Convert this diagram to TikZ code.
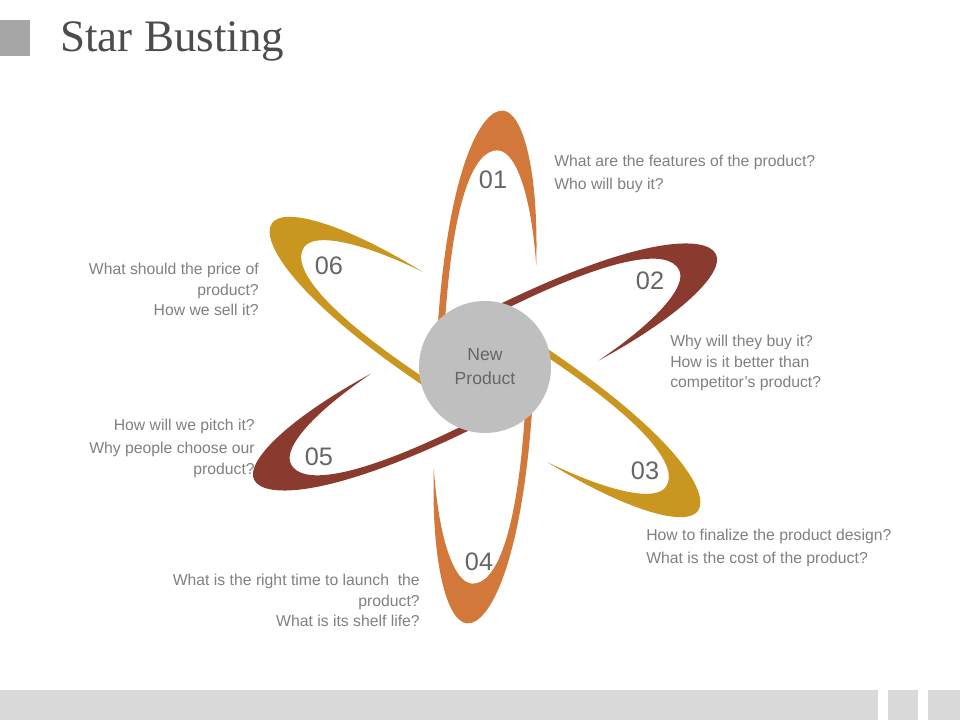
\documentclass[tikz,border=0pt]{standalone}
\usepackage{fontspec}
\setmainfont{Liberation Sans}
\newfontfamily\titlefont{Liberation Serif}
\usetikzlibrary{positioning}
\definecolor{petalorange}{HTML}{D2783A}
\definecolor{petalred}{HTML}{8B3A2F}
\definecolor{petalgold}{HTML}{C9961F}
\definecolor{hubgray}{HTML}{BFBFBF}
\definecolor{txtgray}{HTML}{7F7F7F}
\definecolor{bargray}{HTML}{D9D9D9}
\tikzset{petal/.style={fill=#1, draw=none}}
\tikzset{numlabel/.style={font=\fontsize{18}{20}\selectfont, text=txtgray!80!black, inner sep=0pt}}
\tikzset{question/.style={font=\fontsize{11.2}{14.5}\selectfont, text=txtgray, inner sep=0pt}}
\newcommand{\petalpath}{(-50,40) .. controls (-50,195) and (-22,257) .. (0,257)
  .. controls (20,257) and (40,200) .. (44,105)
  .. controls (34,175) and (16,217) .. (-2,217)
  .. controls (-26,217) and (-44,165) .. (-43,40) -- cycle}

\begin{document}
\begin{tikzpicture}[x=0.025cm, y=0.025cm]
  \useasboundingbox (0,0) rectangle (960,720);

  % frame
  \fill[black!35] (0,664) rectangle (30,700);
  \node[font=\titlefont\fontsize{32}{34}\selectfont, text=black!70, anchor=base west, inner sep=0pt]
    (title) at (60,668) {Star Busting};
  \fill[bargray] (0,0) rectangle (878,30);
  \fill[bargray] (888,0) rectangle (918,30);
  \fill[bargray] (928,0) rectangle (960,30);

  % petals
  \foreach \k/\col in {0/petalorange, 1/petalred, 2/petalgold, 3/petalorange, 4/petalred, 5/petalgold}{
    \begin{scope}[shift={(485,353)}, rotate={-4-60*\k}]
      \fill[petal=\col] \petalpath;
    \end{scope}
  }

  % hub
  \node[circle, fill=hubgray, minimum size=3.3cm, align=center, text=black!60,
    font=\fontsize{12.5}{17}\selectfont] (hub) at (485,353) {New\\Product};

  % numbers
  \node[numlabel] (n01) at (493,540) {01};
  \node[numlabel] (n02) at (650,439) {02};
  \node[numlabel] (n03) at (645,249) {03};
  \node[numlabel] (n04) at (479,158) {04};
  \node[numlabel] (n05) at (319,263) {05};
  \node[numlabel] (n06) at (329,454) {06};

  % questions
  \node[question, anchor=north west, align=left] (q01) at (554,565)
    {What are the features of the product?\\[2pt]Who will buy it?};
  \node[question, anchor=north west, align=left] (q02) at (670,385)
    {Why will they buy it?\\How is it better than\\competitor's product?};
  \node[question, anchor=north west, align=left] (q03) at (646,191)
    {How to finalize the product design?\\[2pt]What is the cost of the product?};
  \node[question, anchor=north east, align=right] (q04) at (420,146)
    {What is the right time to launch\ \ the\\product?\\What is its shelf life?};
  \node[question, anchor=north east, align=right] (q05) at (255,301)
    {How will we pitch it?\\[2pt]Why people choose our\\product?};
  \node[question, anchor=north east, align=right] (q06) at (259,457)
    {What should the price of\\product?\\How we sell it?};
\end{tikzpicture}
\end{document}
